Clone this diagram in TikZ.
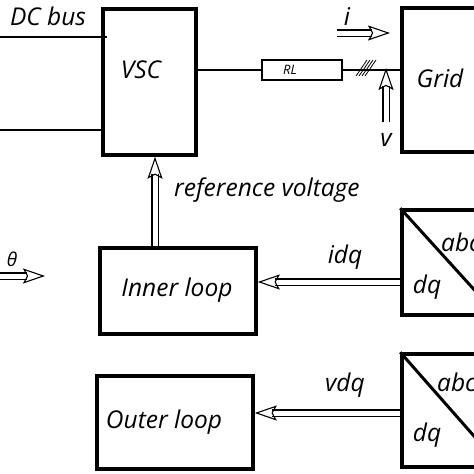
\documentclass[tikz,border=0pt]{standalone}
\usepackage{fontspec}
\setmainfont{Open Sans}
\usetikzlibrary{arrows.meta,calc}
\begin{document}
\begin{tikzpicture}[x=1pt,y=-1pt,
  box/.style={draw, line width=3.5pt, inner sep=0pt},
  wire/.style={line width=1.6pt},
  lbl/.style={font=\fontsize{24.5}{28}\selectfont\itshape, inner sep=0pt},
  hollow/.style={line width=1.1pt, double=white, double distance=5pt,
    -{Stealth[open, length=22pt, width=15pt, inset=4pt]}}]
\useasboundingbox (0,0) rectangle (474,474);
\clip (0,0) rectangle (474,474);
% boxes
\node[box, minimum width=93pt, minimum height=146pt] (vsc) at (149.5,82) {};
\node[box, minimum width=120pt, minimum height=144pt] (grid) at (462,80) {};
\node[box, line width=2.5pt, minimum width=80pt, minimum height=20pt] (rl) at (302,70) {};
\node[box, minimum width=156pt, minimum height=86pt] (inner) at (178,291) {};
\node[box, minimum width=156pt, minimum height=93pt] (outer) at (175,422.5) {};
\node[box, minimum width=95pt, minimum height=105pt] (tr1) at (449.5,262.5) {};
\node[box, minimum width=99pt, minimum height=113pt] (tr2) at (451.5,410.5) {};
\draw[line width=3pt] (tr1.north west) -- (tr1.south east);
\draw[line width=3pt] (tr2.north west) -- (tr2.south east);
% texts
\node[lbl] (tvsc) at (141,70) {VSC};
\node[lbl] (tgrid) at (440,78) {Grid};
\node[lbl, font=\fontsize{13}{15}\selectfont\itshape] (trl) at (290,70) {RL};
\node[lbl] (tinner) at (177,290) {Inner loop};
\node[lbl] (touter) at (164,422) {Outer loop};
\node[lbl, anchor=west] (tabc1) at (441,242) {abc};
\node[lbl] (tdq1) at (427,287) {dq};
\node[lbl, anchor=west] (tabc2) at (437,382) {abc};
\node[lbl] (tdq2) at (427,435) {dq};
\node[lbl] (tdc) at (48,16) {DC bus};
\node[lbl, anchor=west] (tref) at (174,190) {reference voltage};
\node[lbl] (ti) at (347,17) {i};
\node[lbl] (tv) at (386,140) {v};
\node[lbl, font=\fontsize{19}{22}\selectfont\itshape] (tth) at (12,259) {θ};
\node[lbl] (tidq) at (345,257) {idq};
\node[lbl] (tvdq) at (345,385) {vdq};
% wires
\coordinate (dc1) at (0,37);
\coordinate (dc2) at (0,130);
\draw[wire] (dc1) -- (107,37);
\draw[wire] (dc2) -- (dc2 -| vsc.west);
\draw[wire] (vsc.east |- rl.west) -- (rl.west);
\draw[wire] (rl.east) -- (rl.east -| grid.west);
\foreach \x in {356,359,362,365} \draw[line width=0.8pt] (\x,76) -- (\x+11,60);
% hollow arrows
\coordinate (i0) at (337,33);
\coordinate (i1) at (390,33);
\draw[hollow] (i0) -- (i1);
\coordinate (v0) at (386,122);
\coordinate (v1) at (386,68);
\draw[hollow] (v0) -- (v1);
\draw[hollow] ($(inner.north)+(-23,0)$) -- ($(vsc.south)+(5.5,0)$);
\coordinate (th0) at (0,276);
\coordinate (th1) at (45,276);
\draw[hollow] (th0) -- (th1);
\draw[hollow] (tr1.west |- 0,282) -- (inner.east |- 0,282);
\draw[hollow] (tr2.west |- 0,413) -- (outer.east |- 0,413);
\end{tikzpicture}
\end{document}
